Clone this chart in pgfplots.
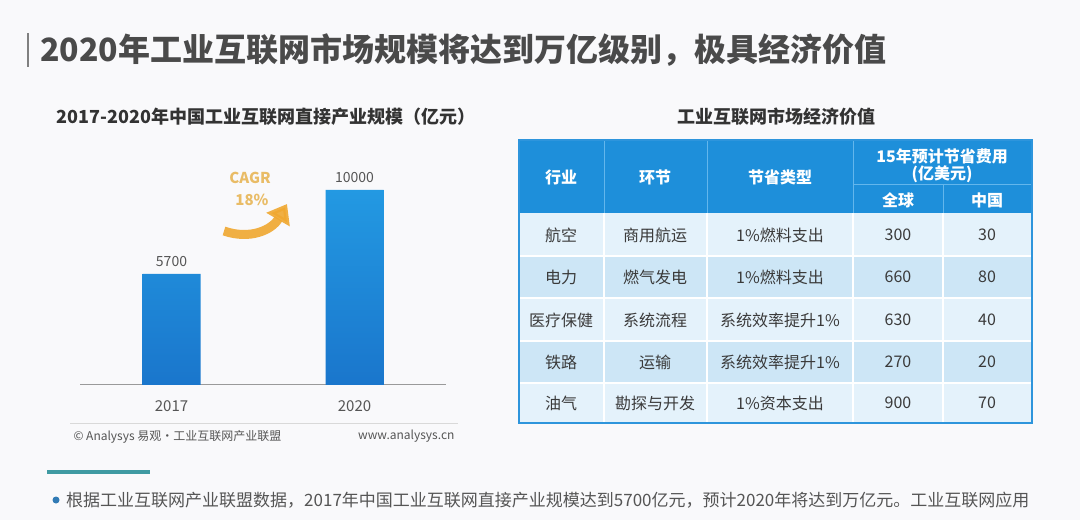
\documentclass[border=0pt]{standalone}
\usepackage{pgfplots}
\pgfplotsset{compat=1.18}
\usepackage{fontspec}
\setmainfont{Noto Sans CJK SC}
\usetikzlibrary{arrows.meta}
\definecolor{bgc}{HTML}{F9F9FB}
\definecolor{titlec}{HTML}{4A4A4A}
\definecolor{darkt}{HTML}{333333}
\definecolor{labgray}{HTML}{555555}
\definecolor{axisgray}{HTML}{9A9A9A}
\definecolor{barTop}{HTML}{2399E2}
\definecolor{barBot}{HTML}{1A76CC}
\definecolor{orangeA}{HTML}{F0A830}
\definecolor{cagr}{HTML}{E9BC66}
\definecolor{hdr}{HTML}{1E8FDA}
\definecolor{hdrline}{HTML}{63B6EC}
\definecolor{rowA}{HTML}{E4F2FB}
\definecolor{rowB}{HTML}{CDE6F6}
\definecolor{tborder}{HTML}{2E95DC}
\definecolor{teal}{HTML}{3F9AA2}
\definecolor{bodyt}{HTML}{3A3A3A}
\begin{document}
\begin{tikzpicture}
\path[use as bounding box, fill=bgc] (0pt,0pt) rectangle (1080pt,520pt);
% bar chart
\begin{axis}[at={(80pt,135pt)}, anchor=south west, scale only axis,
  width=366pt, height=214.5pt,
  xmin=-0.5, xmax=1.5, ymin=0, ymax=11000,
  axis x line*=bottom, hide y axis, ytick=\empty,
  x axis line style={draw=axisgray, line width=1pt, -},
  xtick={0,1}, xticklabels={2017,2020}, major tick length=0pt,
  xticklabel style={font=\fontsize{15}{18}\selectfont, text=labgray, yshift=-12pt},
  ybar, bar width=58pt,
  nodes near coords,
  nodes near coords style={font=\fontsize{14}{17}\selectfont, text=labgray, yshift=4pt},
  /pgf/number format/1000 sep={},
  /pgf/number format/assume math mode=true,
  clip=false]
\addplot[draw=none, top color=barTop, bottom color=barBot] coordinates {(0,5700) (1,10000)};
\end{axis}
\begin{scope}[x=1pt,y=1pt]
% main title
\draw[titlec!70, line width=2pt] (28,453) -- (28,487);
\node[anchor=west, text=titlec, font=\fontsize{32}{38}\selectfont\bfseries, inner sep=0pt] at (40,470) {2020年工业互联网市场规模将达到万亿级别，极具经济价值};
% chart title
\node[text=darkt, font=\fontsize{18}{22}\selectfont\bfseries] at (266,403) {2017-2020年中国工业互联网直接产业规模（亿元）};
% CAGR arrow
\draw[orangeA, line width=9pt, -{Triangle[length=18pt,width=26pt]}, opacity=0.9]
  (224,289) .. controls (250,280) and (272,290) .. (287,316);
\node[text=cagr, font=\fontsize{15}{18}\selectfont\bfseries] at (250,342) {CAGR};
\node[text=cagr, font=\fontsize{15}{18}\selectfont\bfseries] at (252,320) {18\%};
% source
\draw[gray!30, line width=0.8pt] (70,97) -- (458,97);
\node[anchor=west, text=labgray, font=\fontsize{12}{14}\selectfont] at (70,83) {© Analysys 易观·工业互联网产业联盟};
\node[anchor=east, text=labgray, font=\fontsize{12}{14}\selectfont] at (458,84) {www.analysys.cn};
% table title
\node[text=darkt, font=\fontsize{18}{22}\selectfont\bfseries] at (776,403) {工业互联网市场经济价值};
% table
\fill[hdr] (519,307) rectangle (1032,380);
\fill[rowA] (519,264) rectangle (1032,307);
\fill[rowB] (519,222) rectangle (1032,264);
\fill[rowA] (519,179) rectangle (1032,222);
\fill[rowB] (519,137) rectangle (1032,179);
\fill[rowA] (519,97) rectangle (1032,137);
\draw[hdrline, line width=1pt] (604,307) -- (604,380) (707,307) -- (707,380) (853,307) -- (853,380) (943,307) -- (943,335) (853,335) -- (1032,335);
\draw[white, line width=1.5pt] (604,97) -- (604,307) (707,97) -- (707,307) (853,97) -- (853,307) (943,97) -- (943,307);
\draw[white, line width=1.5pt] (519,264) -- (1032,264) (519,222) -- (1032,222) (519,179) -- (1032,179) (519,137) -- (1032,137);
\draw[tborder, line width=1.5pt] (519,97) rectangle (1032,380);
\begin{scope}[every node/.style={text=white, font=\fontsize{16}{19}\selectfont\bfseries}]
\node at (561,343) {行业};
\node at (655,343) {环节};
\node at (780,343) {节省类型};
\node at (942,364) {15年预计节省费用};
\node at (942,346) {(亿美元)};
\node at (898,320) {全球};
\node at (987,320) {中国};
\end{scope}
\begin{scope}[every node/.style={text=bodyt, font=\fontsize{16}{19}\selectfont}]
\node at (561,285) {航空}; \node at (655,285) {商用航运}; \node at (780,285) {1\%燃料支出}; \node at (898,285) {300}; \node at (987,285) {30};
\node at (561,243) {电力}; \node at (655,243) {燃气发电}; \node at (780,243) {1\%燃料支出}; \node at (898,243) {660}; \node at (987,243) {80};
\node at (561,200) {医疗保健}; \node at (655,200) {系统流程}; \node at (780,200) {系统效率提升1\%}; \node at (898,200) {630}; \node at (987,200) {40};
\node at (561,158) {铁路}; \node at (655,158) {运输}; \node at (780,158) {系统效率提升1\%}; \node at (898,158) {270}; \node at (987,158) {20};
\node at (561,117) {油气}; \node at (655,117) {勘探与开发}; \node at (780,117) {1\%资本支出}; \node at (898,117) {900}; \node at (987,117) {70};
\end{scope}
% footer
\draw[teal, line width=4pt] (47,48) -- (150,48);
\fill[teal!80!blue] (56,20) circle (3.5pt);
\node[anchor=west, text=labgray, font=\fontsize{17}{20}\selectfont, inner sep=0pt] at (66,20) {根据工业互联网产业联盟数据，2017年中国工业互联网直接产业规模达到5700亿元，预计2020年将达到万亿元。工业互联网应用};
\end{scope}
\end{tikzpicture}
\end{document}
